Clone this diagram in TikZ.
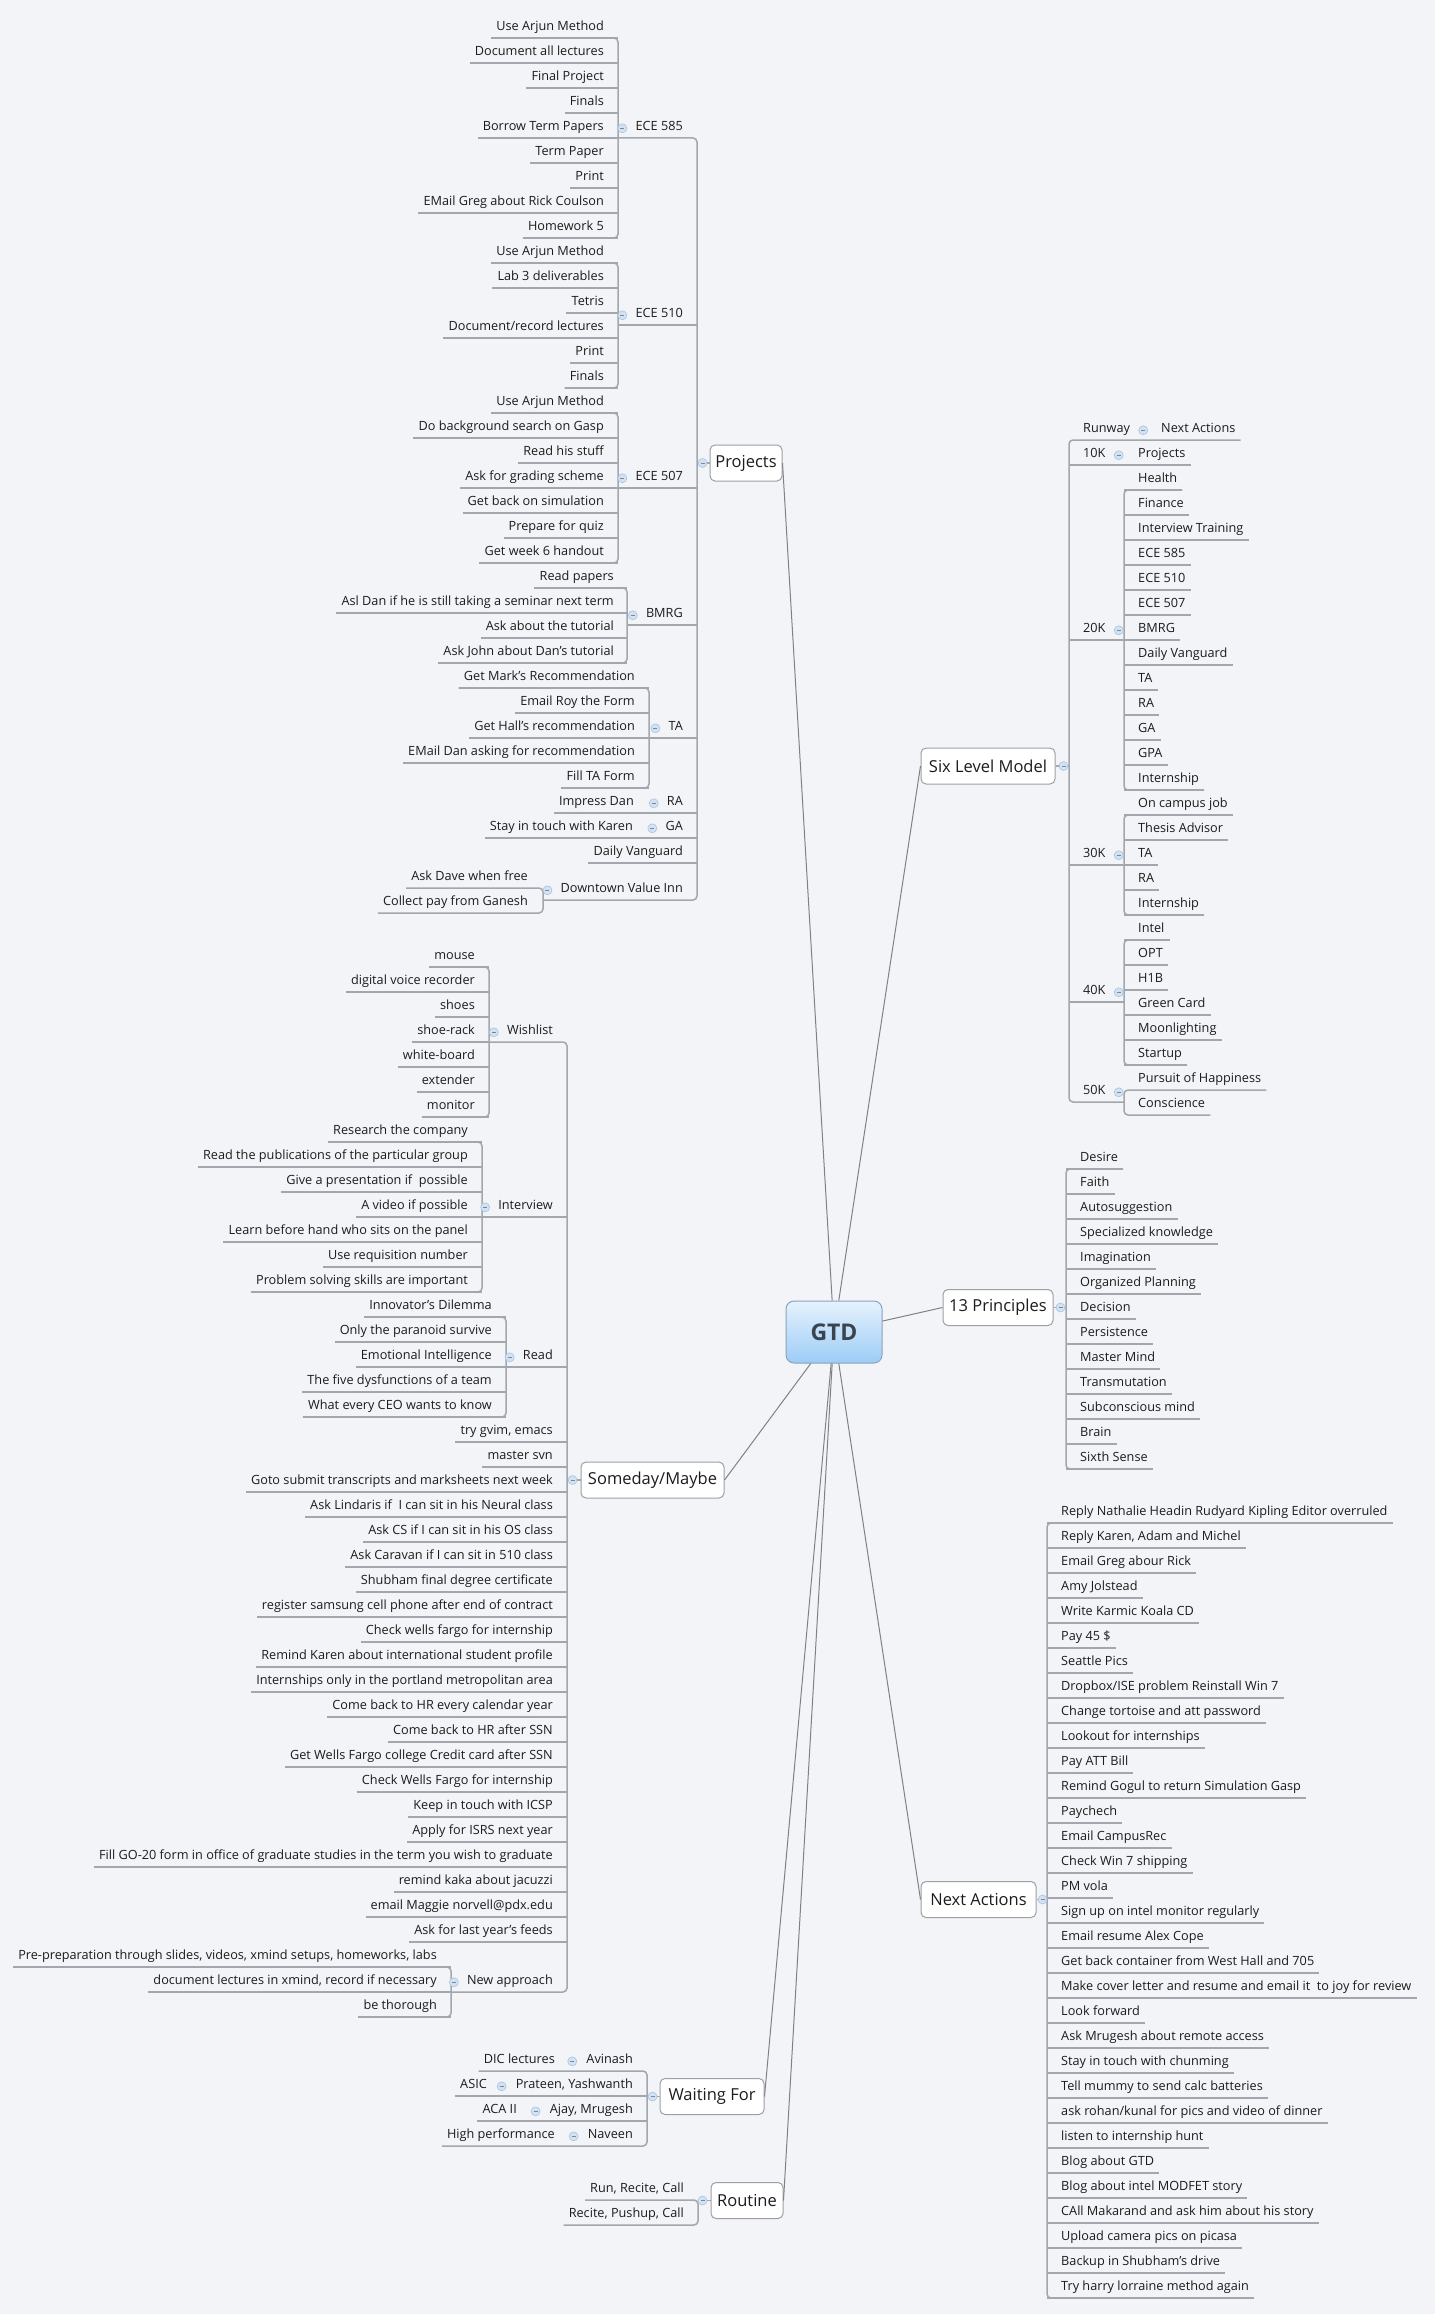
\documentclass[tikz,border=0pt]{standalone}
\usepackage{fontspec}
\setmainfont{Open Sans}
\usetikzlibrary{positioning,calc}
\definecolor{paper}{HTML}{F2F4F8}
\definecolor{ink}{HTML}{1C1C1C}
\definecolor{branch}{HTML}{A3A6AC}
\definecolor{trunk}{HTML}{7E8186}
\definecolor{boxline}{HTML}{9C9FA4}
\definecolor{knobfill}{HTML}{D3E2F3}
\definecolor{knobline}{HTML}{A9C3E0}
\definecolor{gtdtop}{HTML}{E6F2FD}
\definecolor{gtdbot}{HTML}{9CCCF6}
\definecolor{gtdline}{HTML}{8BA2BC}
\definecolor{gtdtext}{HTML}{39444F}
\begin{document}
\begin{tikzpicture}[x=1pt,y=-1pt,every node/.style={font=\fontsize{12.7}{15}\selectfont,text=ink},
topic/.style={draw=boxline,line width=1pt,fill=white,rounded corners=5pt,font=\fontsize{16.5}{20}\selectfont,inner sep=0pt,minimum height=36pt},
lleaf/.style={anchor=south east,inner xsep=5pt,inner ysep=3pt,text height=9pt,text depth=4pt},
rleaf/.style={anchor=south west,inner xsep=5pt,inner ysep=3pt,text height=9pt,text depth=4pt},
sub/.style={draw=branch,line width=1.5pt},
elbow/.style={draw=branch,line width=1.5pt,rounded corners=4pt},
trunkline/.style={draw=trunk,line width=1pt},
knob/.style={circle,fill=knobfill,draw=knobline,line width=0.6pt,minimum size=9pt,inner sep=0pt,path picture={\draw[knobline!70!black,line width=0.8pt] ([xshift=-2pt]path picture bounding box.center) -- ([xshift=2pt]path picture bounding box.center);}}]
\useasboundingbox (0,0) rectangle (1435,2314);
\fill[paper] (0,0) rectangle (1435,2314);
\node[draw=gtdline,line width=1pt,rounded corners=8pt,top color=gtdtop,bottom color=gtdbot,minimum width=96pt,minimum height=62pt,font=\bfseries\fontsize{23}{26}\selectfont,text=gtdtext] (gtd) at (834,1332) {GTD};
\node[topic,minimum width=72pt] (proj) at (746,463) {Projects};
\node[topic,minimum width=134pt] (six) at (988,766) {Six Level Model};
\node[topic,minimum width=110pt] (prin) at (998,1307.5) {13 Principles};
\node[topic,minimum width=115pt] (next) at (978.5,1899.5) {Next Actions};
\node[topic,minimum width=143pt] (some) at (652.5,1480) {Someday/Maybe};
\node[topic,minimum width=104pt] (wait) at (712,2096.5) {Waiting For};
\node[topic,minimum width=72pt] (rout) at (747,2200.5) {Routine};
\draw[trunkline] (gtd) -- (proj.east);
\draw[trunkline] (gtd) -- (six.west);
\draw[trunkline] (gtd) -- (prin.west);
\draw[trunkline] (gtd) -- (next.west);
\draw[trunkline] (gtd) -- (some.east);
\draw[trunkline] (gtd) -- (wait.east);
\draw[trunkline] (gtd) -- (rout.east);

\coordinate (pspine) at (697,463);
\node[lleaf] (ece585) at (688,138) {ECE 585};
\coordinate (s585) at (618,138);
\foreach \txt [count=\i] in {Use Arjun Method,Document all lectures,Final Project,Finals,Borrow Term Papers,Term Paper,Print,EMail Greg about Rick Coulson,Homework 5}{
\node[lleaf] (e585-\i) at (609,{13+25*\i}) {\txt};
\draw[sub] (e585-\i.south west) -- (e585-\i.south -| s585);}
\draw[elbow] (e585-1.south west) -- (e585-1.south -| s585) -- (e585-9.south -| s585) -- (e585-9.south west);
\node[lleaf] (ece510) at (688,325) {ECE 510};
\coordinate (s510) at (618,325);
\foreach \txt [count=\i] in {Use Arjun Method,Lab 3 deliverables,Tetris,{Document/record lectures},Print,Finals}{
\node[lleaf] (e510-\i) at (609,{238+25*\i}) {\txt};
\draw[sub] (e510-\i.south west) -- (e510-\i.south -| s510);}
\draw[elbow] (e510-1.south west) -- (e510-1.south -| s510) -- (e510-6.south -| s510) -- (e510-6.south west);
\node[lleaf] (ece507) at (688,488) {ECE 507};
\coordinate (s507) at (618,488);
\foreach \txt [count=\i] in {Use Arjun Method,Do background search on Gasp,Read his stuff,Ask for grading scheme,Get back on simulation,Prepare for quiz,Get week 6 handout}{
\node[lleaf] (e507-\i) at (609,{388+25*\i}) {\txt};
\draw[sub] (e507-\i.south west) -- (e507-\i.south -| s507);}
\draw[elbow] (e507-1.south west) -- (e507-1.south -| s507) -- (e507-7.south -| s507) -- (e507-7.south west);
\node[lleaf] (bmrg) at (688,625) {BMRG};
\coordinate (sbm) at (627,625);
\foreach \txt [count=\i] in {Read papers,Asl Dan if he is still taking a seminar next term,Ask about the tutorial,Ask John about Dan's tutorial}{
\node[lleaf] (bm-\i) at (619,{563+25*\i}) {\txt};
\draw[sub] (bm-\i.south west) -- (bm-\i.south -| sbm);}
\draw[elbow] (bm-1.south west) -- (bm-1.south -| sbm) -- (bm-4.south -| sbm) -- (bm-4.south west);
\node[lleaf] (ta) at (688,738) {TA};
\coordinate (sta) at (649,738);
\foreach \txt [count=\i] in {Get Mark's Recommendation,Email Roy the Form,Get Hall's recommendation,EMail Dan asking for recommendation,Fill TA Form}{
\node[lleaf] (ta-\i) at (640,{663+25*\i}) {\txt};
\draw[sub] (ta-\i.south west) -- (ta-\i.south -| sta);}
\draw[elbow] (ta-1.south west) -- (ta-1.south -| sta) -- (ta-5.south -| sta) -- (ta-5.south west);
\node[lleaf] (ra) at (688,813) {RA};
\node[lleaf] (ra-1) at (639,813) {Impress Dan};
\node[lleaf] (ga) at (688,838) {GA};
\node[lleaf] (ga-1) at (638,838) {Stay in touch with Karen};
\node[lleaf] (dv) at (688,863) {Daily Vanguard};
\node[lleaf] (dvi) at (688,900) {Downtown Value Inn};
\coordinate (sdvi) at (543,900);
\foreach \txt [count=\i] in {Ask Dave when free,Collect pay from Ganesh}{
\node[lleaf] (dvi-\i) at (533,{863+25*\i}) {\txt};}
\draw[elbow] (dvi-1.south west) -- (dvi-1.south -| sdvi) -- (dvi-2.south -| sdvi) -- (dvi-2.south west);
\draw[elbow] (ece585.south -| s585) -- (ece585.south -| pspine) -- (dvi.south -| pspine) -- (dvi.south -| sdvi);
\draw[sub] (ece510.south -| s510) -- (ece510.south -| pspine);
\draw[sub] (ece507.south -| s507) -- (ece507.south -| pspine);
\draw[sub] (bmrg.south -| sbm) -- (bmrg.south -| pspine);
\draw[sub] (ta.south -| sta) -- (ta.south -| pspine);
\draw[sub] (ra-1.south west) -- (ra.south -| pspine);
\draw[sub] (ga-1.south west) -- (ga.south -| pspine);
\draw[sub] (dv.south west) -- (dv.south -| pspine);
\draw[sub] (proj.west) -- (proj.west -| pspine);
\foreach \n in {ece585,ece510,ece507,bmrg,ta,ra,ga,dvi}{\node[knob] (k-\n) at ([xshift=-8pt]\n.west) {};}
\node[knob] (k-proj) at ([xshift=-7pt]proj.west) {};

\coordinate (sspine) at (1069,766);
\node[rleaf] (runway) at (1078,440) {Runway};
\node[rleaf] (runway-1) at (1156,440) {Next Actions};
\node[rleaf] (k10) at (1078,465) {10K};
\node[rleaf] (k10-1) at (1133,465) {Projects};
\node[rleaf] (k20) at (1078,640) {20K};
\coordinate (s20) at (1124,640);
\foreach \txt [count=\i] in {Health,Finance,Interview Training,ECE 585,ECE 510,ECE 507,BMRG,Daily Vanguard,TA,RA,GA,GPA,Internship}{
\node[rleaf] (k20-\i) at (1133,{465+25*\i}) {\txt};
\draw[sub] (k20-\i.south -| s20) -- (k20-\i.south east);}
\draw[elbow] (k20-1.south east) -- (k20-1.south -| s20) -- (k20-13.south -| s20) -- (k20-13.south east);
\node[rleaf] (k30) at (1078,865) {30K};
\coordinate (s30) at (1124,865);
\foreach \txt [count=\i] in {On campus job,Thesis Advisor,TA,RA,Internship}{
\node[rleaf] (k30-\i) at (1133,{790+25*\i}) {\txt};
\draw[sub] (k30-\i.south -| s30) -- (k30-\i.south east);}
\draw[elbow] (k30-1.south east) -- (k30-1.south -| s30) -- (k30-5.south -| s30) -- (k30-5.south east);
\node[rleaf] (k40) at (1078,1002) {40K};
\coordinate (s40) at (1124,1002);
\foreach \txt [count=\i] in {Intel,OPT,H1B,Green Card,Moonlighting,Startup}{
\node[rleaf] (k40-\i) at (1133,{915+25*\i}) {\txt};
\draw[sub] (k40-\i.south -| s40) -- (k40-\i.south east);}
\draw[elbow] (k40-1.south east) -- (k40-1.south -| s40) -- (k40-6.south -| s40) -- (k40-6.south east);
\node[rleaf] (k50) at (1078,1102) {50K};
\coordinate (s50) at (1124,1102);
\foreach \txt [count=\i] in {Pursuit of Happiness,Conscience}{
\node[rleaf] (k50-\i) at (1133,{1065+25*\i}) {\txt};}
\draw[elbow] (k50-1.south east) -- (k50-1.south -| s50) -- (k50-2.south -| s50) -- (k50-2.south east);
\draw[elbow] (runway-1.south east) -- (runway.south -| sspine) -- (k50.south -| sspine) -- (k50.south -| s50);
\draw[sub] (k10.south -| sspine) -- (k10-1.south east);
\draw[sub] (k20.south -| sspine) -- (k20.south -| s20);
\draw[sub] (k30.south -| sspine) -- (k30.south -| s30);
\draw[sub] (k40.south -| sspine) -- (k40.south -| s40);
\draw[sub] (six.east) -- (six.east -| sspine);
\foreach \n in {runway,k10,k20,k30,k40,k50}{\node[knob] (k-\n) at ([xshift=8pt]\n.east) {};}
\node[knob] (k-six) at ([xshift=8pt]six.east) {};

\coordinate (prspine) at (1066,1307.5);
\foreach \txt [count=\i] in {Desire,Faith,Autosuggestion,Specialized knowledge,Imagination,Organized Planning,Decision,Persistence,Master Mind,Transmutation,Subconscious mind,Brain,Sixth Sense}{
\node[rleaf] (pr-\i) at (1075,{1144+25*\i}) {\txt};
\draw[sub] (pr-\i.south -| prspine) -- (pr-\i.south east);}
\draw[elbow] (pr-1.south east) -- (pr-1.south -| prspine) -- (pr-13.south -| prspine) -- (pr-13.south east);
\draw[sub] (prin.east) -- (prin.east -| prspine);
\node[knob] (k-prin) at ([xshift=7pt]prin.east) {};

\coordinate (nspine) at (1047,1899.5);
\foreach \txt [count=\i] in {Reply Nathalie Headin Rudyard Kipling Editor overruled,{Reply Karen, Adam and Michel},Email Greg abour Rick,Amy Jolstead,Write Karmic Koala CD,Pay 45 \$,Seattle Pics,{Dropbox/ISE problem Reinstall Win 7},Change tortoise and att password,Lookout for internships,Pay ATT Bill,Remind Gogul to return Simulation Gasp,Paychech,Email CampusRec,Check Win 7 shipping,PM vola,Sign up on intel monitor regularly,Email resume Alex Cope,Get back container from West Hall and 705,Make cover letter and resume and email it\ \ to joy for review,Look forward,Ask Mrugesh about remote access,Stay in touch with chunming,Tell mummy to send calc batteries,{ask rohan/kunal for pics and video of dinner},listen to internship hunt,Blog about GTD,Blog about intel MODFET story,CAll Makarand and ask him about his story,Upload camera pics on picasa,Backup in Shubham's drive,Try harry lorraine method again}{
\node[rleaf] (na-\i) at (1056,{1498+25*\i}) {\txt};
\draw[sub] (na-\i.south -| nspine) -- (na-\i.south east);}
\draw[elbow] (na-1.south east) -- (na-1.south -| nspine) -- (na-32.south -| nspine) -- (na-32.south east);
\draw[sub] (next.east) -- (next.east -| nspine);
\node[knob] (k-next) at ([xshift=6pt]next.east) {};

\coordinate (smspine) at (567,1480);
\node[lleaf] (wish) at (558,1042) {Wishlist};
\coordinate (swish) at (489,1042);
\foreach \txt [count=\i] in {mouse,digital voice recorder,shoes,shoe-rack,white-board,extender,monitor}{
\node[lleaf] (wi-\i) at (480,{942+25*\i}) {\txt};
\draw[sub] (wi-\i.south west) -- (wi-\i.south -| swish);}
\draw[elbow] (wi-1.south west) -- (wi-1.south -| swish) -- (wi-7.south -| swish) -- (wi-7.south west);
\node[lleaf] (intv) at (558,1217) {Interview};
\coordinate (sintv) at (482,1217);
\foreach \txt [count=\i] in {Research the company,Read the publications of the particular group,Give a presentation if\ \ possible,A video if possible,Learn before hand who sits on the panel,Use requisition number,Problem solving skills are important}{
\node[lleaf] (iv-\i) at (473,{1117+25*\i}) {\txt};
\draw[sub] (iv-\i.south west) -- (iv-\i.south -| sintv);}
\draw[elbow] (iv-1.south west) -- (iv-1.south -| sintv) -- (iv-7.south -| sintv) -- (iv-7.south west);
\node[lleaf] (read) at (558,1367) {Read};
\coordinate (sread) at (506,1367);
\foreach \txt [count=\i] in {Innovator's Dilemma,Only the paranoid survive,Emotional Intelligence,The five dysfunctions of a team,What every CEO wants to know}{
\node[lleaf] (rd-\i) at (497,{1292+25*\i}) {\txt};
\draw[sub] (rd-\i.south west) -- (rd-\i.south -| sread);}
\draw[elbow] (rd-1.south west) -- (rd-1.south -| sread) -- (rd-5.south -| sread) -- (rd-5.south west);
\foreach \txt [count=\i] in {{try gvim, emacs},master svn,Goto submit transcripts and marksheets next week,Ask Lindaris if\ \ I can sit in his Neural class,Ask CS if I can sit in his OS class,Ask Caravan if I can sit in 510 class,Shubham final degree certificate,register samsung cell phone after end of contract,Check wells fargo for internship,Remind Karen about international student profile,Internships only in the portland metropolitan area,Come back to HR every calendar year,Come back to HR after SSN,Get Wells Fargo college Credit card after SSN,Check Wells Fargo for internship,Keep in touch with ICSP,Apply for ISRS next year,Fill GO-20 form in office of graduate studies in the term you wish to graduate,remind kaka about jacuzzi,email Maggie norvell@pdx.edu,Ask for last year's feeds}{
\node[lleaf] (sm-\i) at (558,{1417+25*\i}) {\txt};
\draw[sub] (sm-\i.south west) -- (sm-\i.south -| smspine);}
\node[lleaf] (newapp) at (558,1992) {New approach};
\coordinate (snew) at (451,1992);
\foreach \txt [count=\i] in {{Pre-preparation through slides, videos, xmind setups, homeworks, labs},{document lectures in xmind, record if necessary},be thorough}{
\node[lleaf] (nw-\i) at (442,{1942+25*\i}) {\txt};
\draw[sub] (nw-\i.south west) -- (nw-\i.south -| snew);}
\draw[elbow] (nw-1.south west) -- (nw-1.south -| snew) -- (nw-3.south -| snew) -- (nw-3.south west);
\draw[elbow] (wish.south -| swish) -- (wish.south -| smspine) -- (newapp.south -| smspine) -- (newapp.south -| snew);
\draw[sub] (intv.south -| sintv) -- (intv.south -| smspine);
\draw[sub] (read.south -| sread) -- (read.south -| smspine);
\draw[sub] (some.west) -- (some.west -| smspine);
\foreach \n in {wish,intv,read,newapp}{\node[knob] (k-\n) at ([xshift=-8pt]\n.west) {};}
\node[knob] (k-some) at ([xshift=-8pt]some.west) {};

\coordinate (wspine) at (647,2096.5);
\node[lleaf] (wf-1) at (638,2071) {Avinash};
\node[lleaf] (wf-1c) at (560,2071) {DIC lectures};
\node[lleaf] (wf-2) at (638,2096) {Prateen, Yashwanth};
\node[lleaf] (wf-2c) at (492,2096) {ASIC};
\node[lleaf] (wf-3) at (638,2121) {Ajay, Mrugesh};
\node[lleaf] (wf-3c) at (522,2121) {ACA II};
\node[lleaf] (wf-4) at (638,2146) {Naveen};
\node[lleaf] (wf-4c) at (560,2146) {High performance};
\draw[elbow] (wf-1c.south west) -- (wf-1.south -| wspine) -- (wf-4.south -| wspine) -- (wf-4c.south west);
\draw[sub] (wf-2c.south west) -- (wf-2.south -| wspine);
\draw[sub] (wf-3c.south west) -- (wf-3.south -| wspine);
\draw[sub] (wait.west) -- (wait.west -| wspine);
\foreach \n in {wf-1,wf-2,wf-3,wf-4}{\node[knob] (k-\n) at ([xshift=-9pt]\n.west) {};}
\node[knob] (k-wait) at ([xshift=-7pt]wait.west) {};

\coordinate (rspine) at (698,2200.5);
\node[lleaf] (rt-1) at (689,2200) {Run, Recite, Call};
\node[lleaf] (rt-2) at (689,2225) {Recite, Pushup, Call};
\draw[elbow] (rt-1.south west) -- (rt-1.south -| rspine) -- (rt-2.south -| rspine) -- (rt-2.south west);
\draw[sub] (rout.west) -- (rout.west -| rspine);
\node[knob] (k-rout) at ([xshift=-8pt]rout.west) {};
\end{tikzpicture}
\end{document}
